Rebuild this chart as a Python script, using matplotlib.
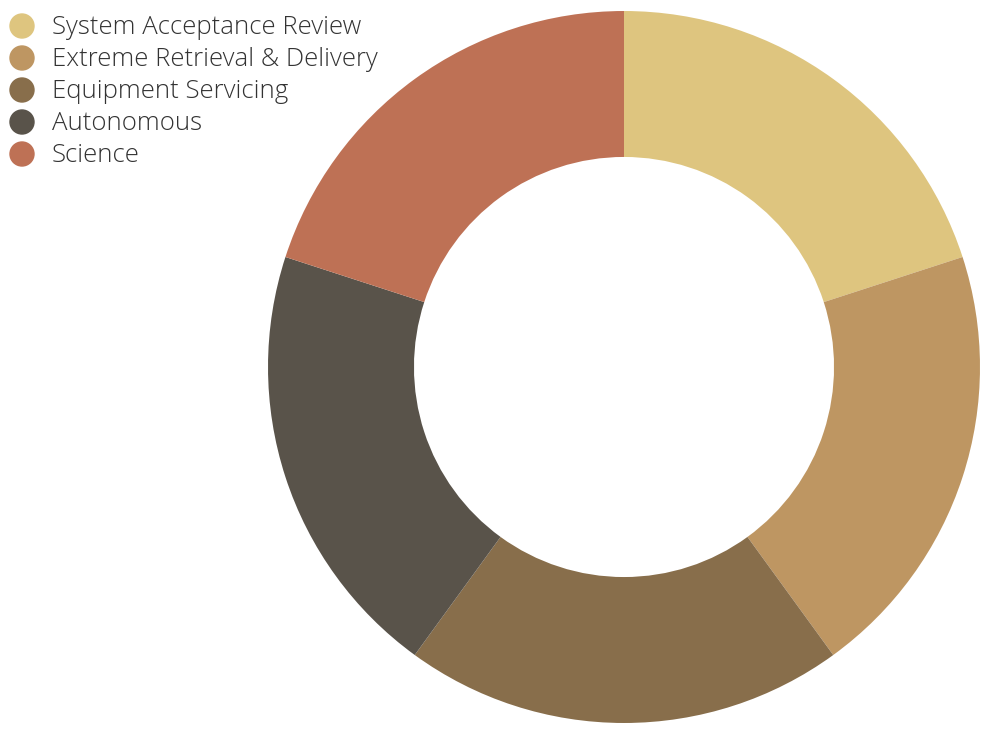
import matplotlib.pyplot as plt
from matplotlib.patches import Circle

labels = ['System Acceptance Review', 'Extreme Retrieval & Delivery',
          'Equipment Servicing', 'Autonomous', 'Science']
values = [1, 1, 1, 1, 1]
colors = ['#DEC57F', '#BE9662', '#886E4B', '#59534A', '#BE7155']

fig = plt.figure(figsize=(10, 7.34), dpi=100)
ax = fig.add_axes([0.268, 0.015, 0.712, 0.970])
ax.pie(values, colors=colors, startangle=90, counterclock=False,
       wedgeprops=dict(width=0.41, linewidth=0))
ax.set_xlim(-1, 1)
ax.set_ylim(-1, 1)
ax.set_aspect('equal')

# legend drawn by hand in pixel coords
for i, (lab, c) in enumerate(zip(labels, colors)):
    y = 734 - (26 + 32 * i)
    fig.patches.append(Circle((22, y), 12, color=c, transform=None))
    fig.text(52 / 1000, (y - 1) / 734, lab, fontsize=18.5, color='#333333',
             va='center', ha='left', family='Open Sans', fontweight='light')

fig.savefig('out.png', dpi=100)
